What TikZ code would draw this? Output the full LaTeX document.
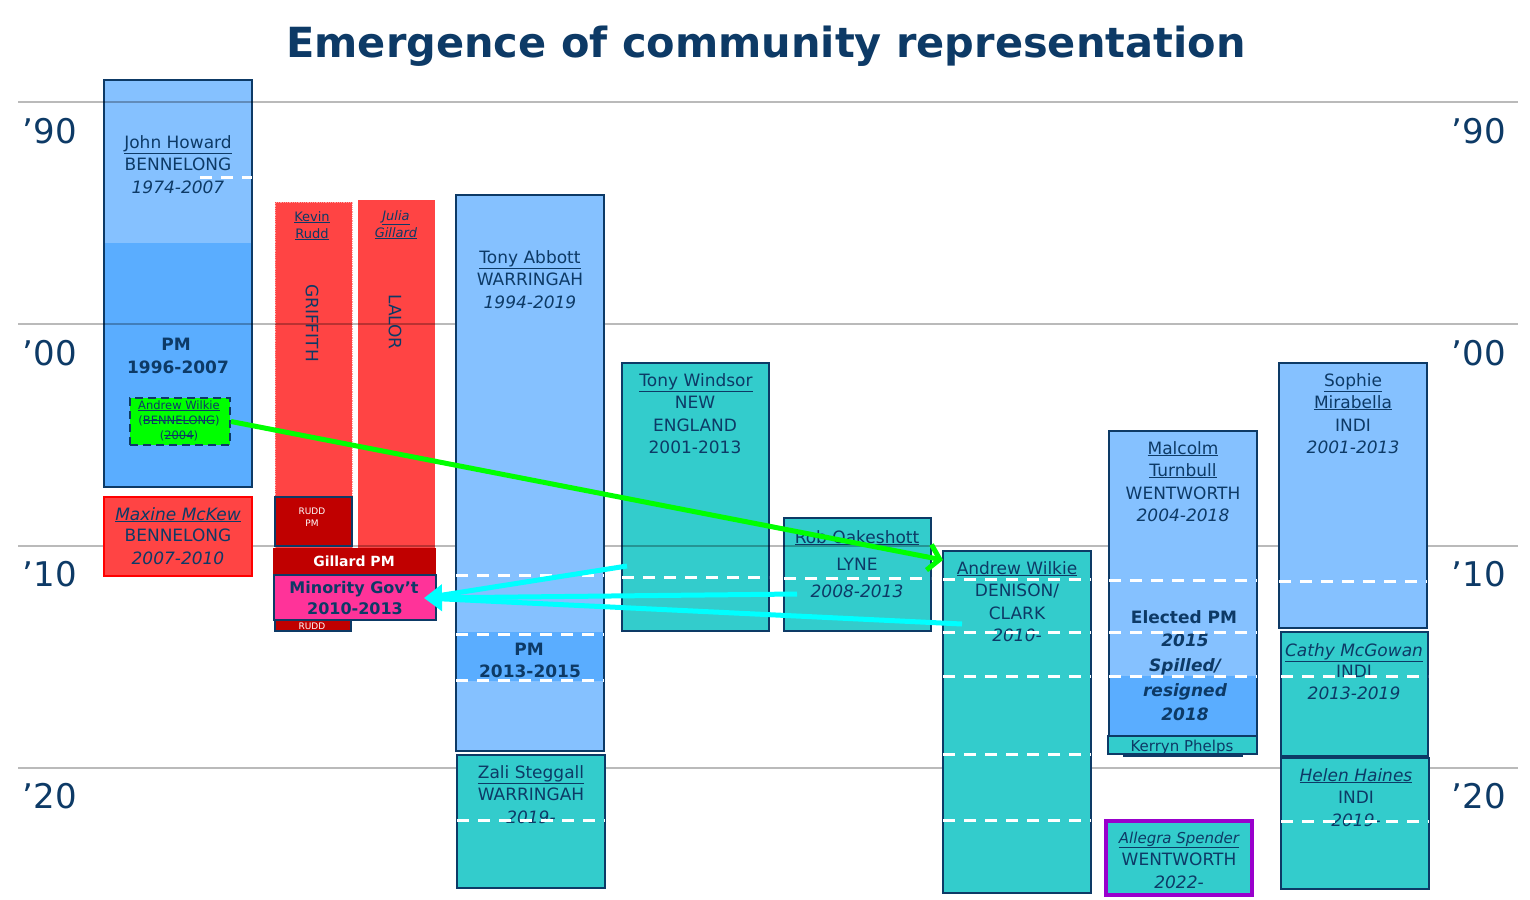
\documentclass[tikz,border=0pt]{standalone}
\usepackage{fontspec}
\setmainfont{DejaVu Sans}
\usetikzlibrary{arrows.meta}
\definecolor{navy}{HTML}{0D3A66}
\definecolor{lb}{HTML}{85C1FF}
\definecolor{db}{HTML}{5AADFF}
\definecolor{tl}{HTML}{33CCCC}
\definecolor{rd}{HTML}{FF4444}
\definecolor{dr}{HTML}{C00000}
\definecolor{mg}{HTML}{FF3399}
\definecolor{pu}{HTML}{9900CC}
\definecolor{gn}{HTML}{00FF00}
\definecolor{cy}{HTML}{00FFFF}
\newcommand\fs[1]{\fontsize{#1}{#1}\selectfont}
\newcommand\mystrike[1]{\setbox0\hbox{#1}\rlap{\rule[0.32em]{\wd0}{0.6pt}}\box0}
\newcommand\rbox[6]{\node[box,#2,minimum width={(#5-#3)*1pt},minimum height={(#6-#4)*1pt}] (#1) at (#3,#4) {};}
\tikzset{
  box/.style={draw=navy,line width=1.8pt,inner sep=0pt,outer sep=0pt,anchor=north west},
  txt/.style={text=navy,font=\fs{17},inner sep=0pt,anchor=base},
  wdash/.style={white,line width=3pt,dash pattern=on 12pt off 9pt},
  grid/.style={black,opacity=0.27,line width=2pt},
  yr/.style={text=navy,font=\fs{34},inner sep=0pt},
  garrow/.style={gn,line width=5pt,-{Straight Barb[length=11pt,width=26pt]}},
  cline/.style={cy,line width=5pt},
}
\begin{document}
\begin{tikzpicture}[x=1pt,y=-1pt]
\useasboundingbox (0,0) rectangle (1530,899);
% title
\node[text=navy,font=\fs{41.5}\bfseries,inner sep=0pt] (title) at (766,46) {Emergence of community representation};
% year labels
\node[yr] (l90) at (50,131) {’90};
\node[yr] (l00) at (50,353) {’00};
\node[yr] (l10) at (50,574) {’10};
\node[yr] (l20) at (50,796) {’20};
\node[yr] (r90) at (1479,131) {’90};
\node[yr] (r00) at (1479,353) {’00};
\node[yr] (r10) at (1479,574) {’10};
\node[yr] (r20) at (1479,796) {’20};

% ---- boxes under the grid lines
\rbox{howard}{fill=lb}{104}{80}{252}{487}
\fill[db] (104.8,243) rectangle (251.2,486.2);
\draw[navy,line width=1.8pt] (howard.north west) rectangle (howard.south east);
\node[draw=rd!50!white,densely dotted,line width=0.8pt,fill=rd,inner sep=0pt,anchor=north west,minimum width=77pt,minimum height=346pt] (rudd) at (275,202) {};
\node[fill=rd,inner sep=0pt,anchor=north west,minimum width=77pt,minimum height=348pt] (gillard) at (358,200) {};
\rbox{windsor}{fill=tl}{622}{363}{769}{631}
\rbox{oakeshott}{fill=tl}{784}{518}{931}{631}

% ---- grid lines
\draw[grid] (18,102) -- (1518,102);
\draw[grid] (18,324) -- (1518,324);
\draw[grid] (18,546) -- (1518,546);
\draw[grid] (18,768) -- (1518,768);

% ---- boxes over the grid lines
\rbox{mckew}{fill=rd,draw=red}{104}{497}{252}{576}
\rbox{ruddpm}{fill=dr}{275}{497}{352}{546}
\node[fill=dr,inner sep=0pt,anchor=north west,minimum width=163pt,minimum height=26pt] (gillardpm) at (273,548) {};
\rbox{minority}{fill=mg}{274}{575}{436}{620}
\rbox{ruddb}{fill=dr}{275}{620}{351}{631}
\rbox{abbott}{fill=lb}{456}{195}{604}{751}
\fill[db] (456.9,632) rectangle (603.1,681);
\rbox{steggall}{fill=tl}{457}{755}{605}{888}
\rbox{wilkie}{fill=tl}{943}{551}{1091}{893}
\rbox{turnbull}{fill=lb}{1109}{431}{1257}{737}
\fill[db] (1109.9,676) rectangle (1256.1,736);
\draw[navy,line width=1.8pt] (turnbull.north west) rectangle (turnbull.south east);
\draw[navy,line width=1.8pt] (1123,756) -- (1243,756);
\rbox{phelps}{fill=tl}{1108}{736}{1257}{754}
\rbox{spender}{fill=tl,draw=pu,line width=4pt}{1106}{821}{1252}{895}
\rbox{mirabella}{fill=lb}{1279}{363}{1427}{628}
\rbox{mcgowan}{fill=tl}{1281}{632}{1428}{756}
\rbox{haines}{fill=tl}{1281}{758}{1429}{889}
\node[draw=navy,dash pattern=on 8pt off 5pt,line width=2pt,fill=gn,inner sep=0pt,anchor=north west,minimum width=100pt,minimum height=47pt] (wgreen) at (129,397) {};

% ---- texts
\node[txt] at (178,148) {\underline{John Howard}};
\node[txt] at (178,170) {BENNELONG};
\node[txt] at (178,193) {\itshape 1974-2007};
\node[txt,font=\fs{17}\bfseries] at (176,350) {PM};
\node[txt,font=\fs{17}\bfseries] at (178,373) {1996-2007};
\node[txt,font=\fs{11.5}] at (179,409) {\underline{Andrew Wilkie}};
\node[txt,font=\fs{11.5}] at (179,424) {(\mystrike{BENNELONG})};
\node[txt,font=\fs{11.5}] at (179,439) {(\mystrike{2004})};
\node[txt] at (178,520) {\itshape\underline{Maxine McKew}};
\node[txt] at (178,541) {BENNELONG};
\node[txt] at (178,564) {\itshape 2007-2010};
\node[txt,font=\fs{13}] at (312,221) {\underline{Kevin}};
\node[txt,font=\fs{13}] at (312,238) {\underline{Rudd}};
\node[txt,font=\fs{17},rotate=-90,anchor=center] at (312,323) {GRIFFITH};
\node[txt,font=\fs{13}\itshape] at (396,220) {\underline{Julia}};
\node[txt,font=\fs{13}\itshape] at (396,237) {\underline{Gillard}};
\node[txt,font=\fs{17},rotate=-90,anchor=center] at (395,322) {LALOR};
\node[txt,text=white,font=\fs{9}] at (312,514) {RUDD};
\node[txt,text=white,font=\fs{9}] at (312,526) {PM};
\node[txt,text=white,font=\fs{14}\bfseries] at (354,566) {Gillard PM};
\node[txt,font=\fs{16}\bfseries] at (354,593) {Minority Gov’t};
\node[txt,font=\fs{16}\bfseries] at (355,614) {2010-2013};
\node[txt,text=white,font=\fs{9}] at (312,629) {RUDD};
\node[txt] at (530,263) {\underline{Tony Abbott}};
\node[txt] at (530,285) {WARRINGAH};
\node[txt] at (530,308) {\itshape 1994-2019};
\node[txt,font=\fs{17}\bfseries] at (529,655) {PM};
\node[txt,font=\fs{17}\bfseries] at (530,677) {2013-2015};
\node[txt] at (531,778) {\underline{Zali Steggall}};
\node[txt] at (531,800) {WARRINGAH};
\node[txt] at (531,823) {\itshape 2019-};
\node[txt] at (696,386) {\underline{Tony Windsor}};
\node[txt] at (695,408) {NEW};
\node[txt] at (695,431) {ENGLAND};
\node[txt] at (695,453) {2001-2013};
\node[txt] at (857,543) {\underline{Rob Oakeshott}};
\node[txt] at (857,570) {LYNE};
\node[txt] at (857,597) {\itshape 2008-2013};
\node[txt] at (1017,574) {\underline{Andrew Wilkie}};
\node[txt] at (1017,596) {DENISON/};
\node[txt] at (1017,619) {CLARK};
\node[txt] at (1017,641) {\itshape 2010-};
\node[txt] at (1183,454) {\underline{Malcolm}};
\node[txt] at (1183,476) {\underline{Turnbull}};
\node[txt] at (1183,499) {WENTWORTH};
\node[txt] at (1183,521) {\itshape 2004-2018};
\node[txt,font=\fs{17}\bfseries] at (1184,623) {Elected PM};
\node[txt,font=\fs{17}\bfseries\itshape] at (1185,646) {2015};
\node[txt,font=\fs{17}\bfseries\itshape] at (1185,671) {Spilled/};
\node[txt,font=\fs{17}\bfseries\itshape] at (1185,696) {resigned};
\node[txt,font=\fs{17}\bfseries\itshape] at (1185,720) {2018};
\node[txt,font=\fs{15}] at (1182,751) {Kerryn Phelps};
\node[txt,font=\fs{15}] at (1179,843) {\itshape\underline{Allegra Spender}};
\node[txt] at (1179,865) {WENTWORTH};
\node[txt] at (1179,888) {\itshape 2022-};
\node[txt] at (1353,386) {\underline{Sophie}};
\node[txt] at (1353,408) {\underline{Mirabella}};
\node[txt] at (1353,431) {INDI};
\node[txt] at (1353,453) {\itshape 2001-2013};
\node[txt] at (1354,656) {\itshape\underline{Cathy McGowan}};
\node[txt] at (1354,677) {INDI};
\node[txt] at (1354,699) {\itshape 2013-2019};
\node[txt] at (1356,781) {\itshape\underline{Helen Haines}};
\node[txt] at (1356,803) {INDI};
\node[txt] at (1356,826) {\itshape 2019-};

% ---- white dashed lines
\draw[wdash] (200,177) -- (howard.east |- 0,177);
\foreach \y in {575,634,680} \draw[wdash] (abbott.west |- 0,\y) -- (abbott.east |- 0,\y);
\draw[wdash] (steggall.west |- 0,820) -- (steggall.east |- 0,820);
\draw[wdash] (windsor.west |- 0,577) -- (windsor.east |- 0,577);
\draw[wdash] (oakeshott.west |- 0,578) -- (oakeshott.east |- 0,578);
\foreach \y in {579,632,676,754,820} \draw[wdash] (wilkie.west |- 0,\y) -- (wilkie.east |- 0,\y);
\foreach \y in {580,632,676} \draw[wdash] (turnbull.west |- 0,\y) -- (turnbull.east |- 0,\y);
\draw[wdash] (mirabella.west |- 0,581) -- (mirabella.east |- 0,581);
\draw[wdash] (mcgowan.west |- 0,676) -- (mcgowan.east |- 0,676);
\draw[wdash] (haines.west |- 0,821) -- (haines.east |- 0,821);

% ---- arrows
\coordinate (gtip) at (943,560);
\draw[garrow] (wgreen.east) -- (gtip);
\coordinate (ctip) at (424,598);
\coordinate (cwin) at (627,566);
\coordinate (coak) at (797,594);
\coordinate (cwil) at (962,624);
\draw[cline,shorten >=14pt] (cwin) -- (ctip);
\draw[cline,shorten >=14pt] (cwil) -- (ctip);
\draw[cline,-{Triangle[length=18pt,width=26pt]}] (coak) -- (ctip);
\end{tikzpicture}
\end{document}
